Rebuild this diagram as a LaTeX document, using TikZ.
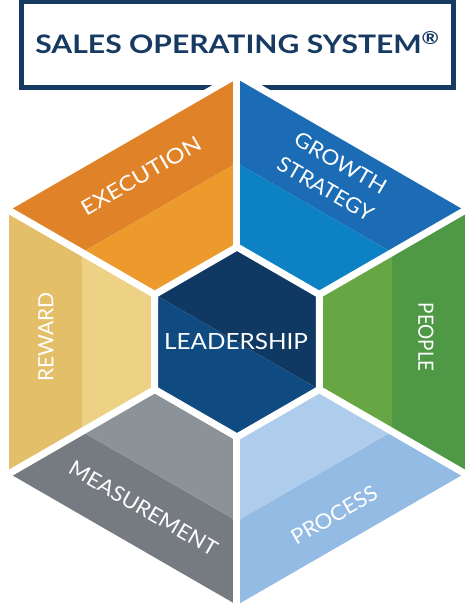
\documentclass[tikz,border=0pt]{standalone}
\usepackage{fontspec}
\setmainfont{Lato}
\definecolor{navy}{HTML}{173A63}
\definecolor{exedark}{HTML}{E08228}
\definecolor{exelight}{HTML}{EB9A2B}
\definecolor{grodark}{HTML}{1B6CB4}
\definecolor{grolight}{HTML}{0C82C5}
\definecolor{peodark}{HTML}{4E9846}
\definecolor{peolight}{HTML}{66A744}
\definecolor{prodark}{HTML}{94BBE4}
\definecolor{prolight}{HTML}{AECCEC}
\definecolor{meadark}{HTML}{757B80}
\definecolor{mealight}{HTML}{8C9398}
\definecolor{rewdark}{HTML}{E4BF6A}
\definecolor{rewlight}{HTML}{EDD185}
\definecolor{leaddark}{HTML}{0F3963}
\definecolor{leadlight}{HTML}{0F4A80}
\tikzset{
  label/.style={text=white, inner sep=0pt, font=\fontsize{21}{30}\selectfont, align=center},
  gap/.style={white, line width=7pt},
}
\begin{document}
\begin{tikzpicture}[x=1pt,y=1pt]
\useasboundingbox (-237,-274) rectangle (237,342);
\foreach \a in {30,90,...,330}{
  \coordinate (o\a) at (\a:263);
  \coordinate (m\a) at (\a:179);
  \coordinate (i\a) at (\a:95);
}
% title box
\draw[navy, line width=4.5pt] (-215.3,340) rectangle (216.3,254.5);
\node[text=navy, inner sep=0pt, font=\fontsize{25.5}{30}\selectfont\bfseries] (title) at (0.5,299.5) {\scalebox{1.18}[1]{SALES OPERATING SYSTEM\textsuperscript{\textregistered}}};
% white halo round the hexagon
\filldraw[white, line width=14pt, line join=miter] (o30)--(o90)--(o150)--(o210)--(o270)--(o330)--cycle;
% pieces
\fill[exedark] (o90)--(o150)--(m150)--(m90)--cycle;
\fill[exelight] (m90)--(m150)--(i150)--(i90)--cycle;
\fill[grodark] (o90)--(o30)--(m30)--(m90)--cycle;
\fill[grolight] (m90)--(m30)--(i30)--(i90)--cycle;
\fill[peodark] (o30)--(o330)--(m330)--(m30)--cycle;
\fill[peolight] (m30)--(m330)--(i330)--(i30)--cycle;
\fill[prodark] (o330)--(o270)--(m270)--(m330)--cycle;
\fill[prolight] (m330)--(m270)--(i270)--(i330)--cycle;
\fill[meadark] (o270)--(o210)--(m210)--(m270)--cycle;
\fill[mealight] (m270)--(m210)--(i210)--(i270)--cycle;
\fill[rewdark] (o210)--(o150)--(m150)--(m210)--cycle;
\fill[rewlight] (m210)--(m150)--(i150)--(i210)--cycle;
\fill[leaddark] (i150)--(i90)--(i30)--(i330)--cycle;
\fill[leadlight] (i330)--(i270)--(i210)--(i150)--cycle;
% gaps
\foreach \a in {30,90,...,330}{ \draw[gap] (i\a)--(o\a); }
\draw[gap, line join=miter] (i30)--(i90)--(i150)--(i210)--(i270)--(i330)--cycle;
% labels
\node[label, rotate=30] (exe) at (-96,166) {\scalebox{1.14}[1]{EXECUTION}};
\node[label, rotate=-30] (gro) at (96,166) {\scalebox{1.08}[1]{GROWTH}\\\scalebox{1.05}[1]{STRATEGY}};
\node[label, rotate=90] (rew) at (-191.2,5) {REWARD};
\node[label, rotate=-90] (peo) at (188.8,4.8) {\scalebox{0.9}[1]{PEOPLE}};
\node[label, font=\fontsize{22.3}{30}\selectfont] (lead) at (-1,0.7) {\scalebox{1.09}[1]{LEADERSHIP}};
\node[label, rotate=-30] (mea) at (-93.7,-166.3) {\scalebox{1.06}[1]{MEASUREMENT}};
\node[label, rotate=30] (pro) at (97.2,-173) {\scalebox{1.05}[1]{PROCESS}};
\end{tikzpicture}
\end{document}
